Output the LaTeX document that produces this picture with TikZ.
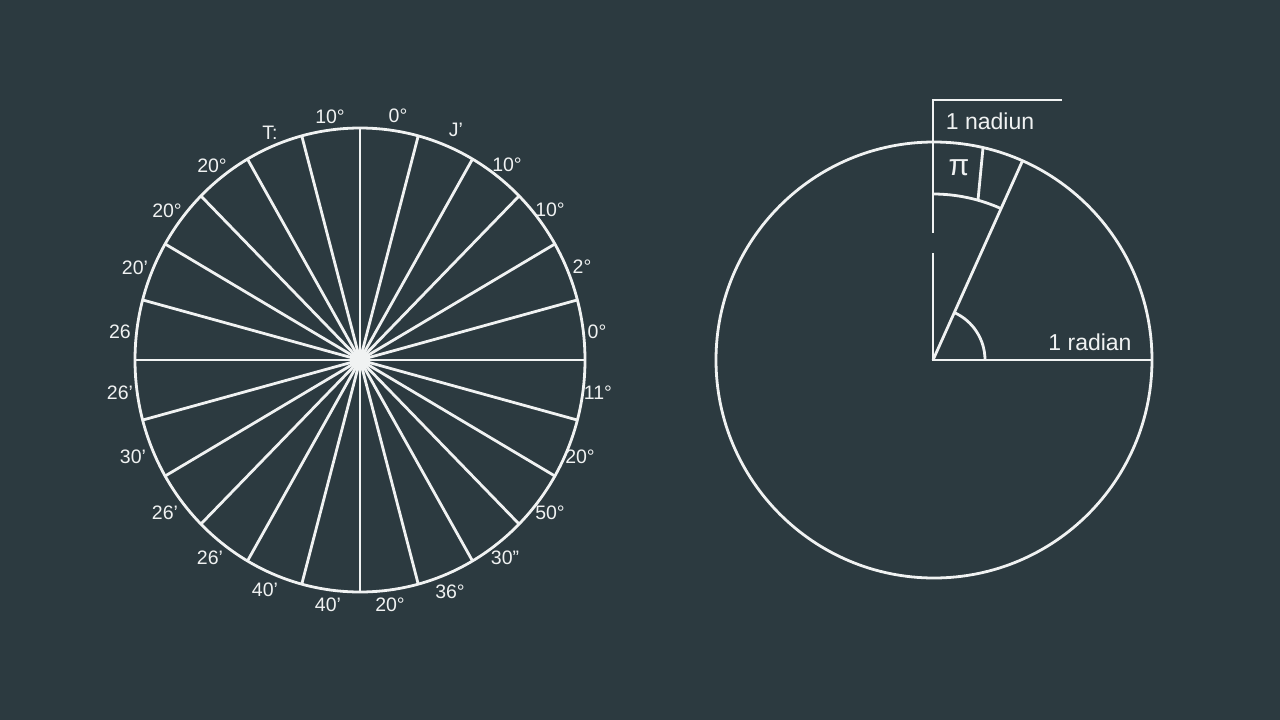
\documentclass[tikz,border=0pt]{standalone}
\usepackage{fontspec}
\setmainfont{Liberation Sans}
\definecolor{bg}{RGB}{44,58,64}
\definecolor{ink}{RGB}{240,242,242}
\tikzset{
  stroke/.style={draw=ink, line width=2.8pt},
  deg/.style={text=ink, font=\fontsize{19.5}{22}\selectfont, inner sep=0pt},
  big/.style={text=ink, font=\fontsize{23}{26}\selectfont, inner sep=0pt},
}
\begin{document}
\begin{tikzpicture}[x=1pt,y=-1pt]
\fill[bg] (0,0) rectangle (1280,720);
\useasboundingbox (0,0) rectangle (1280,720);
% ---------- left wheel ----------
\coordinate (L) at (360,360);
\draw[stroke] (L) ellipse [x radius=225, y radius=232];
\foreach \a in {0,15,...,165}{
  \draw[stroke] ({360+225*cos(\a)},{360-232*sin(\a)}) -- ({360-225*cos(\a)},{360+232*sin(\a)});
}
\fill[ink] (L) circle (10);
\foreach \x/\y/\t [count=\i] in {
  330/117/10°, 398/116/0°, 270/133/T:, 456/130/J', 212/166/20°, 167/211/20°,
  135/268/20', 120/332/26, 507/165/10°, 550/210/10°, 582/267/2°, 597/332/0°,
  120/393/26', 133/457/30', 165/513/26', 210/558/26', 265/590/40', 328/605/40',
  390/605/20°, 450/592/36°, 505/558/30", 550/513/50°, 580/457/20°, 598/393/11°}{
  \node[deg] (lab\i) at (\x,\y) {\t};
}
% ---------- right circle ----------
\coordinate (R) at (933,360);
\draw[stroke] (934,360) circle (218);
\coordinate (Vtop) at (933,100);
\coordinate (Htop) at (1062,100);
\coordinate (Vgap1) at (933,233);
\coordinate (Vgap2) at (933,253);
\coordinate (Hend) at (1152,360);
\coordinate (Rend) at ({933+218*cos(65.8)},{360-218*sin(65.8)});
\coordinate (Sa) at (978,200);
\coordinate (Sb) at (983,148);
\draw[stroke] (Htop) -- (Vtop) -- (Vgap1);
\draw[stroke] (Vgap2) -- (R) -- (Hend);
\draw[stroke] (R) -- (Rend);
\draw[stroke] (R) ++(52,0) arc[start angle=0, end angle=-65.8, radius=52];
\draw[stroke] (R) ++(0,-166) arc[start angle=-90, end angle=-65.8, radius=166];
\draw[stroke] (Sa) -- (Sb);
\node[big] (toplab) at (990,121) {1 nadiun};
\node[big] (radlab) at (1090,342) {1 radian};
\node[text=ink, font=\fontsize{30}{32}\selectfont, inner sep=0pt] (pilab) at (959,168) {π};
\end{tikzpicture}
\end{document}
